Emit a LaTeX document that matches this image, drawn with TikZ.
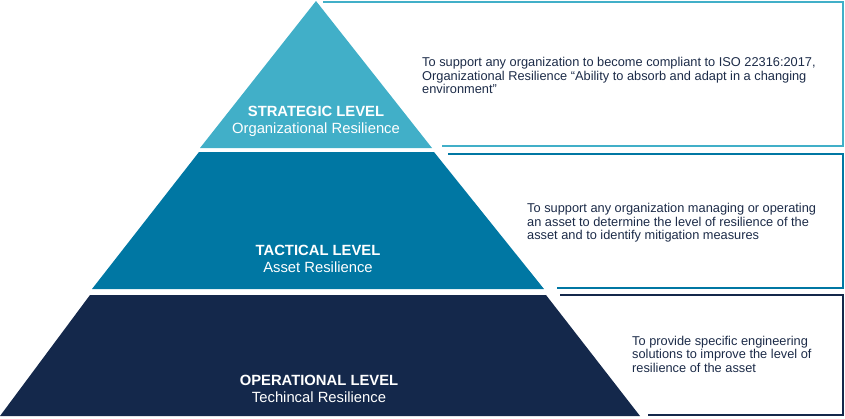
\documentclass[tikz,border=0pt]{standalone}
\usepackage{fontspec}
\setmainfont{Liberation Sans}
\definecolor{lightb}{HTML}{41AFC8}
\definecolor{tealb}{HTML}{0077A3}
\definecolor{navyb}{HTML}{14284B}
\definecolor{txt}{HTML}{1C2B48}
\begin{document}
\begin{tikzpicture}[x=1pt,y=-1pt,
  lvl/.style={align=center, text=white, inner sep=0pt, anchor=north,
    font=\fontsize{14.8}{17}\selectfont},
  desc/.style={align=left, text=txt, inner sep=0pt, anchor=north west,
    font=\fontsize{12.8}{13.3}\selectfont},
  frame/.style={line width=2pt}]
\useasboundingbox (0,0) rectangle (845,418);
% pyramid tiers
\fill[lightb] (316,1) -- (432,148) -- (200,148) -- cycle;
\fill[tealb] (199,152) -- (434,152) -- (544,289) -- (92,289) -- cycle;
\fill[navyb] (90,295) -- (546,295) -- (640,416) -- (0,416) -- cycle;
% open boxes
\draw[frame, lightb] (323,2) -- (843,2) -- (843,146) -- (442,146);
\draw[frame, tealb] (448,154) -- (843,154) -- (843,288) -- (557,288);
\draw[frame, navyb] (560,295) -- (843,295) -- (843,415) -- (648,415);
% level labels
\node[lvl] (strat) at (316,106) {\textbf{STRATEGIC LEVEL}\\Organizational Resilience};
\node[lvl] (tact) at (318,245) {\textbf{TACTICAL LEVEL}\\Asset Resilience};
\node[lvl] (oper) at (319,375) {\textbf{OPERATIONAL LEVEL}\\Techincal Resilience};
% descriptions
\node[desc] (d1) at (422,57.5) {To support any organization to become compliant to ISO 22316:2017,\\Organizational Resilience “Ability to absorb and adapt in a changing\\environment”};
\node[desc] (d2) at (527,203.5) {To support any organization managing or operating\\an asset to determine the level of resilience of the\\asset and to identify mitigation measures};
\node[desc] (d3) at (632,336) {To provide specific engineering\\solutions to improve the level of\\resilience of the asset};
\end{tikzpicture}
\end{document}
